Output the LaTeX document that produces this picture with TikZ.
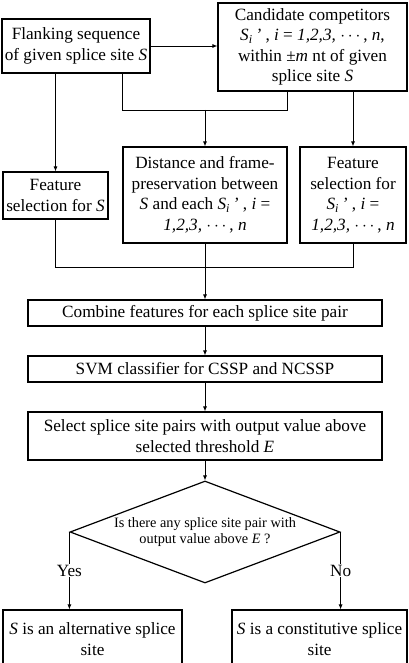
\documentclass[tikz,border=0pt]{standalone}
\usepackage{fontspec}
\setmainfont{Liberation Serif}
\usepackage{tikz}
\usetikzlibrary{shapes.geometric, arrows.meta, positioning, calc}
\newcommand{\Sip}{\textit{S}\textsubscript{\textit{i}}\,\textit{’}}
\newcommand{\dotsn}{\textit{1,2,3,} $\cdots$\,, \textit{n}}

\begin{document}
\begin{tikzpicture}[
  x=1pt, y=-1pt,
  box/.style={draw, line width=1.2pt, inner sep=0pt, align=center, font=\fontsize{17.2}{20.5}\selectfont},
  dec/.style={draw, line width=1.2pt, diamond, shape aspect=2.65, inner sep=0pt, minimum width=270pt, minimum height=102pt, align=center, font=\fontsize{14.3}{16}\selectfont},
  arr/.style={-{Latex[length=5pt,width=4pt]}, line width=0.8pt},
  ln/.style={line width=0.8pt},
  lbl/.style={font=\fontsize{17.2}{18}\selectfont, fill=white, inner sep=1pt}
]
\useasboundingbox (0,0) rectangle (408,663);
\clip (0,0) rectangle (408,663);

% --- Inputs ---
\node[box, minimum width=148pt, minimum height=54pt] (flank) at (76,46) {Flanking sequence\\of given splice site \textit{S}};
\node[box, minimum width=189pt, minimum height=88pt] (cand) at (312.5,47) {Candidate competitors\\\Sip\ , \textit{i} = \textit{1,2,3,} $\cdots$\,, \textit{n},\\within ±\textit{m} nt of given\\splice site \textit{S}};

% --- Feature boxes ---
\node[box, minimum width=105pt, minimum height=47pt] (fss) at (55.5,195.5) {Feature\\selection for \textit{S}};
\node[box, minimum width=164pt, minimum height=96pt] (dist) at (205,195) {Distance and frame-\\preservation between\\\textit{S} and each \Sip\ , \textit{i} =\\\dotsn};
\node[box, minimum width=106pt, minimum height=96pt] (fsi) at (353,195) {Feature\\selection for\\\Sip\ , \textit{i} =\\\dotsn};

% --- Main chain ---
\node[box, minimum width=354pt, minimum height=26pt] (comb) at (205,313) {Combine features for each splice site pair};
\node[box, minimum width=354pt, minimum height=26pt] (svm) at (205,369) {SVM classifier for CSSP and NCSSP};
\node[box, minimum width=354pt, minimum height=48pt] (sel) at (205,436) {Select splice site pairs with output value above\\selected threshold \textit{E}};
\node[dec] (ask) at (205,532) {Is there any splice site pair with\\output value above \textit{E} ?};

% --- Outcomes ---
\node[box, minimum width=179pt, minimum height=58pt] (alt) at (92.5,639) {\textit{S} is an alternative splice\\site};
\node[box, minimum width=175pt, minimum height=58pt] (con) at (319.5,639) {\textit{S} is a constitutive splice\\site};

\coordinate (j1) at (205,110);
\coordinate (j2) at (205,267);

% --- Connectors ---
\draw[arr] (flank.east) -- (flank.east -| cand.west);
\draw[ln] (flank.south -| dist.west) |- (dist.east |- j1) -- (cand.south -| dist.east);
\draw[arr] (j1) -- (dist.north);
\draw[arr] (flank.south -| fss) -- (fss.north);
\draw[arr] (cand.south -| fsi) -- (fsi.north);
\draw[ln] (fss.south) |- (fsi.south |- j2) -- (fsi.south);
\draw[ln] (dist.south) -- (j2);
\draw[arr] (j2) -- (comb.north);
\draw[arr] (comb) -- (svm);
\draw[arr] (svm) -- (sel);
\draw[arr] (sel) -- (ask);
\draw[arr] (ask.west) -- node[lbl]{Yes} (ask.west |- alt.north);
\draw[arr] (ask.east) -- node[lbl]{No} (ask.east |- con.north);

\end{tikzpicture}
\end{document}
